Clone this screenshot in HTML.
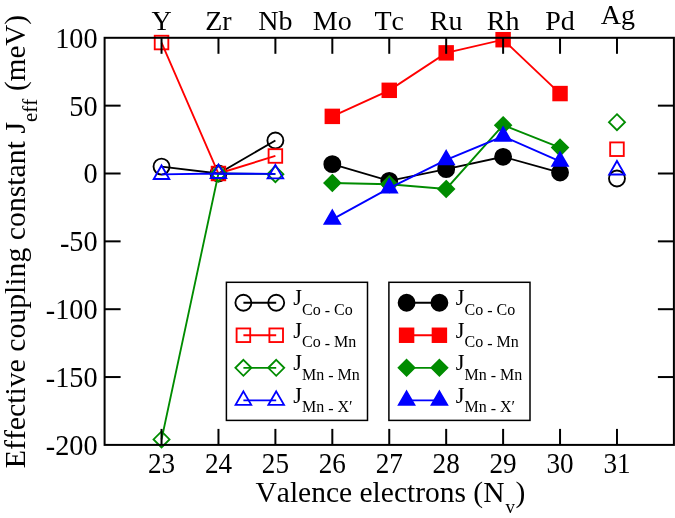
<!DOCTYPE html>
<html><head><meta charset="utf-8"><style>
html,body{margin:0;padding:0;background:#fff;}
svg{display:block;}
text{font-family:"Liberation Serif","Times New Roman",serif;fill:#000;font-kerning:none;font-feature-settings:"kern" 0;}
</style></head><body>
<svg width="675" height="518" viewBox="0 0 675 518">
<rect width="675" height="518" fill="#fff"/>
<g font-size="28">
<text transform="translate(161.53,472.6) scale(0.97,1.045)" text-anchor="middle">23</text>
<text transform="translate(218.46,472.6) scale(0.97,1.045)" text-anchor="middle">24</text>
<text transform="translate(275.39,472.6) scale(0.97,1.045)" text-anchor="middle">25</text>
<text transform="translate(332.32,472.6) scale(0.97,1.045)" text-anchor="middle">26</text>
<text transform="translate(389.25,472.6) scale(0.97,1.045)" text-anchor="middle">27</text>
<text transform="translate(446.18,472.6) scale(0.97,1.045)" text-anchor="middle">28</text>
<text transform="translate(503.11,472.6) scale(0.97,1.045)" text-anchor="middle">29</text>
<text transform="translate(560.04,472.6) scale(0.97,1.045)" text-anchor="middle">30</text>
<text transform="translate(616.97,472.6) scale(0.97,1.045)" text-anchor="middle">31</text>
<text x="161.53" y="29.5" text-anchor="middle">Y</text>
<text x="218.46" y="29.5" text-anchor="middle">Zr</text>
<text x="275.39" y="29.5" text-anchor="middle">Nb</text>
<text x="332.32" y="29.5" text-anchor="middle">Mo</text>
<text x="389.25" y="29.5" text-anchor="middle">Tc</text>
<text x="446.18" y="29.5" text-anchor="middle">Ru</text>
<text x="503.11" y="29.5" text-anchor="middle">Rh</text>
<text x="560.04" y="29.5" text-anchor="middle">Pd</text>
<text x="617.87" y="24.0" text-anchor="middle">Ag</text>
<text transform="translate(97.6,454.80) scale(1.01,1.06)" text-anchor="end"><tspan dy="1.2">-</tspan><tspan dy="-1.2">200</tspan></text>
<text transform="translate(97.6,386.95) scale(1.01,1.06)" text-anchor="end"><tspan dy="1.2">-</tspan><tspan dy="-1.2">150</tspan></text>
<text transform="translate(97.6,319.10) scale(1.01,1.06)" text-anchor="end"><tspan dy="1.2">-</tspan><tspan dy="-1.2">100</tspan></text>
<text transform="translate(97.6,251.25) scale(1.01,1.06)" text-anchor="end"><tspan dy="1.2">-</tspan><tspan dy="-1.2">50</tspan></text>
<text transform="translate(97.6,183.40) scale(1.01,1.06)" text-anchor="end">0</text>
<text transform="translate(97.6,115.55) scale(1.01,1.06)" text-anchor="end">50</text>
<text transform="translate(97.6,47.70) scale(1.01,1.06)" text-anchor="end">100</text>
</g>
<g transform="translate(25,0) rotate(-90)" font-size="29.6"><text x="-468.2" font-size="29.75">Effective coupling constant J</text><text x="-122" y="11.5" font-size="21">eff</text><text x="-90.9" font-size="29.1" transform="scale(1,1.03)">(meV)</text></g>
<g font-size="29.5"><text x="255.5" y="501.6">Valence electrons (N</text><text x="505.4" y="513.4" font-size="19">v</text><text x="515.6" y="501.6">)</text></g>
<polyline points="161.53,166.58 218.46,173.50 275.39,140.52" fill="none" stroke="#000" stroke-width="1.85"/>
<circle cx="161.53" cy="166.58" r="8.00" fill="none" stroke="#000" stroke-width="1.85"/>
<circle cx="218.46" cy="173.50" r="8.00" fill="none" stroke="#000" stroke-width="1.85"/>
<circle cx="275.39" cy="140.52" r="8.00" fill="none" stroke="#000" stroke-width="1.85"/>
<polyline points="161.53,42.55 218.46,173.50 275.39,155.99" fill="none" stroke="#ff0000" stroke-width="1.85"/>
<rect x="154.73" y="35.75" width="13.60" height="13.60" fill="none" stroke="#ff0000" stroke-width="1.85"/>
<rect x="211.66" y="166.70" width="13.60" height="13.60" fill="none" stroke="#ff0000" stroke-width="1.85"/>
<rect x="268.59" y="149.19" width="13.60" height="13.60" fill="none" stroke="#ff0000" stroke-width="1.85"/>
<polyline points="161.53,439.47 218.46,173.50 275.39,174.18" fill="none" stroke="#008c00" stroke-width="1.85"/>
<polygon points="161.53,431.47 169.53,439.47 161.53,447.47 153.53,439.47" fill="none" stroke="#008c00" stroke-width="1.85"/>
<polygon points="218.46,165.50 226.46,173.50 218.46,181.50 210.46,173.50" fill="none" stroke="#008c00" stroke-width="1.85"/>
<polygon points="275.39,166.18 283.39,174.18 275.39,182.18 267.39,174.18" fill="none" stroke="#008c00" stroke-width="1.85"/>
<polyline points="161.53,174.45 218.46,173.50 275.39,173.91" fill="none" stroke="#0000ff" stroke-width="1.85"/>
<polygon points="161.53,165.45 169.32,178.95 153.74,178.95" fill="none" stroke="#0000ff" stroke-width="1.85"/>
<polygon points="218.46,164.50 226.25,178.00 210.67,178.00" fill="none" stroke="#0000ff" stroke-width="1.85"/>
<polygon points="275.39,164.91 283.18,178.41 267.60,178.41" fill="none" stroke="#0000ff" stroke-width="1.85"/>
<polyline points="332.32,164.14 389.25,180.83 446.18,169.16 503.11,156.81 560.04,172.55" fill="none" stroke="#000" stroke-width="1.85"/>
<circle cx="332.32" cy="164.14" r="8.00" fill="#000" stroke="#000" stroke-width="1.85"/>
<circle cx="389.25" cy="180.83" r="8.00" fill="#000" stroke="#000" stroke-width="1.85"/>
<circle cx="446.18" cy="169.16" r="8.00" fill="#000" stroke="#000" stroke-width="1.85"/>
<circle cx="503.11" cy="156.81" r="8.00" fill="#000" stroke="#000" stroke-width="1.85"/>
<circle cx="560.04" cy="172.55" r="8.00" fill="#000" stroke="#000" stroke-width="1.85"/>
<polyline points="332.32,116.37 389.25,90.32 446.18,52.86 503.11,39.70 560.04,93.57" fill="none" stroke="#ff0000" stroke-width="1.85"/>
<rect x="325.52" y="109.57" width="13.60" height="13.60" fill="#ff0000" stroke="#ff0000" stroke-width="1.85"/>
<rect x="382.45" y="83.52" width="13.60" height="13.60" fill="#ff0000" stroke="#ff0000" stroke-width="1.85"/>
<rect x="439.38" y="46.06" width="13.60" height="13.60" fill="#ff0000" stroke="#ff0000" stroke-width="1.85"/>
<rect x="496.31" y="32.90" width="13.60" height="13.60" fill="#ff0000" stroke="#ff0000" stroke-width="1.85"/>
<rect x="553.24" y="86.77" width="13.60" height="13.60" fill="#ff0000" stroke="#ff0000" stroke-width="1.85"/>
<polyline points="332.32,183.00 389.25,184.22 446.18,188.97 503.11,125.19 560.04,147.58" fill="none" stroke="#008c00" stroke-width="1.85"/>
<polygon points="332.32,175.00 340.32,183.00 332.32,191.00 324.32,183.00" fill="#008c00" stroke="#008c00" stroke-width="1.85"/>
<polygon points="389.25,176.22 397.25,184.22 389.25,192.22 381.25,184.22" fill="#008c00" stroke="#008c00" stroke-width="1.85"/>
<polygon points="446.18,180.97 454.18,188.97 446.18,196.97 438.18,188.97" fill="#008c00" stroke="#008c00" stroke-width="1.85"/>
<polygon points="503.11,117.19 511.11,125.19 503.11,133.19 495.11,125.19" fill="#008c00" stroke="#008c00" stroke-width="1.85"/>
<polygon points="560.04,139.58 568.04,147.58 560.04,155.58 552.04,147.58" fill="#008c00" stroke="#008c00" stroke-width="1.85"/>
<polyline points="332.32,219.37 389.25,188.16 446.18,159.93 503.11,136.32 560.04,161.42" fill="none" stroke="#0000ff" stroke-width="1.85"/>
<polygon points="332.32,210.37 340.11,223.87 324.53,223.87" fill="#0000ff" stroke="#0000ff" stroke-width="1.85"/>
<polygon points="389.25,179.16 397.04,192.66 381.46,192.66" fill="#0000ff" stroke="#0000ff" stroke-width="1.85"/>
<polygon points="446.18,150.93 453.97,164.43 438.39,164.43" fill="#0000ff" stroke="#0000ff" stroke-width="1.85"/>
<polygon points="503.11,127.32 510.90,140.82 495.32,140.82" fill="#0000ff" stroke="#0000ff" stroke-width="1.85"/>
<polygon points="560.04,152.42 567.83,165.92 552.25,165.92" fill="#0000ff" stroke="#0000ff" stroke-width="1.85"/>
<circle cx="616.97" cy="178.52" r="8.00" fill="none" stroke="#000" stroke-width="1.85"/>
<rect x="610.17" y="142.41" width="13.60" height="13.60" fill="none" stroke="#ff0000" stroke-width="1.85"/>
<polygon points="616.97,114.21 624.97,122.21 616.97,130.21 608.97,122.21" fill="none" stroke="#008c00" stroke-width="1.85"/>
<polygon points="616.97,160.97 624.76,174.47 609.18,174.47" fill="none" stroke="#0000ff" stroke-width="1.85"/>
<rect x="104.6" y="37.8" width="569.30" height="407.10" fill="none" stroke="#000" stroke-width="2"/>
<line x1="161.53" y1="444.90" x2="161.53" y2="428.90" stroke="#000" stroke-width="2"/>
<line x1="161.53" y1="37.80" x2="161.53" y2="53.80" stroke="#000" stroke-width="2"/>
<line x1="218.46" y1="444.90" x2="218.46" y2="428.90" stroke="#000" stroke-width="2"/>
<line x1="218.46" y1="37.80" x2="218.46" y2="53.80" stroke="#000" stroke-width="2"/>
<line x1="275.39" y1="444.90" x2="275.39" y2="428.90" stroke="#000" stroke-width="2"/>
<line x1="275.39" y1="37.80" x2="275.39" y2="53.80" stroke="#000" stroke-width="2"/>
<line x1="332.32" y1="444.90" x2="332.32" y2="428.90" stroke="#000" stroke-width="2"/>
<line x1="332.32" y1="37.80" x2="332.32" y2="53.80" stroke="#000" stroke-width="2"/>
<line x1="389.25" y1="444.90" x2="389.25" y2="428.90" stroke="#000" stroke-width="2"/>
<line x1="389.25" y1="37.80" x2="389.25" y2="53.80" stroke="#000" stroke-width="2"/>
<line x1="446.18" y1="444.90" x2="446.18" y2="428.90" stroke="#000" stroke-width="2"/>
<line x1="446.18" y1="37.80" x2="446.18" y2="53.80" stroke="#000" stroke-width="2"/>
<line x1="503.11" y1="444.90" x2="503.11" y2="428.90" stroke="#000" stroke-width="2"/>
<line x1="503.11" y1="37.80" x2="503.11" y2="53.80" stroke="#000" stroke-width="2"/>
<line x1="560.04" y1="444.90" x2="560.04" y2="428.90" stroke="#000" stroke-width="2"/>
<line x1="560.04" y1="37.80" x2="560.04" y2="53.80" stroke="#000" stroke-width="2"/>
<line x1="616.97" y1="444.90" x2="616.97" y2="428.90" stroke="#000" stroke-width="2"/>
<line x1="616.97" y1="37.80" x2="616.97" y2="53.80" stroke="#000" stroke-width="2"/>
<line x1="104.60" y1="377.05" x2="120.60" y2="377.05" stroke="#000" stroke-width="2"/>
<line x1="673.90" y1="377.05" x2="657.90" y2="377.05" stroke="#000" stroke-width="2"/>
<line x1="104.60" y1="309.20" x2="120.60" y2="309.20" stroke="#000" stroke-width="2"/>
<line x1="673.90" y1="309.20" x2="657.90" y2="309.20" stroke="#000" stroke-width="2"/>
<line x1="104.60" y1="241.35" x2="120.60" y2="241.35" stroke="#000" stroke-width="2"/>
<line x1="673.90" y1="241.35" x2="657.90" y2="241.35" stroke="#000" stroke-width="2"/>
<line x1="104.60" y1="173.50" x2="120.60" y2="173.50" stroke="#000" stroke-width="2"/>
<line x1="673.90" y1="173.50" x2="657.90" y2="173.50" stroke="#000" stroke-width="2"/>
<line x1="104.60" y1="105.65" x2="120.60" y2="105.65" stroke="#000" stroke-width="2"/>
<line x1="673.90" y1="105.65" x2="657.90" y2="105.65" stroke="#000" stroke-width="2"/>
<rect x="226.4" y="282.3" width="141.1" height="138.1" fill="#fff" stroke="#000" stroke-width="1.5"/>
<line x1="243.40" y1="302.70" x2="276.20" y2="302.70" stroke="#000" stroke-width="1.85"/>
<circle cx="243.40" cy="302.70" r="8.00" fill="none" stroke="#000" stroke-width="1.85"/>
<circle cx="276.20" cy="302.70" r="8.00" fill="none" stroke="#000" stroke-width="1.85"/>
<text x="293.20" y="305.00" font-size="22.5">J</text>
<text x="302.00" y="314.75" font-size="16">Co <tspan dy="1.4">-</tspan><tspan dy="-1.4"> Co</tspan></text>
<line x1="243.40" y1="335.25" x2="276.20" y2="335.25" stroke="#ff0000" stroke-width="1.85"/>
<rect x="236.60" y="328.45" width="13.60" height="13.60" fill="none" stroke="#ff0000" stroke-width="1.85"/>
<rect x="269.40" y="328.45" width="13.60" height="13.60" fill="none" stroke="#ff0000" stroke-width="1.85"/>
<text x="293.20" y="337.55" font-size="22.5">J</text>
<text x="302.00" y="347.30" font-size="16">Co <tspan dy="1.4">-</tspan><tspan dy="-1.4"> Mn</tspan></text>
<line x1="243.40" y1="367.80" x2="276.20" y2="367.80" stroke="#008c00" stroke-width="1.85"/>
<polygon points="243.40,359.80 251.40,367.80 243.40,375.80 235.40,367.80" fill="none" stroke="#008c00" stroke-width="1.85"/>
<polygon points="276.20,359.80 284.20,367.80 276.20,375.80 268.20,367.80" fill="none" stroke="#008c00" stroke-width="1.85"/>
<text x="293.20" y="370.10" font-size="22.5">J</text>
<text x="302.00" y="379.85" font-size="16">Mn <tspan dy="1.4">-</tspan><tspan dy="-1.4"> Mn</tspan></text>
<line x1="243.40" y1="400.35" x2="276.20" y2="400.35" stroke="#0000ff" stroke-width="1.85"/>
<polygon points="243.40,391.35 251.19,404.85 235.61,404.85" fill="none" stroke="#0000ff" stroke-width="1.85"/>
<polygon points="276.20,391.35 283.99,404.85 268.41,404.85" fill="none" stroke="#0000ff" stroke-width="1.85"/>
<text x="293.20" y="402.65" font-size="22.5">J</text>
<text x="302.00" y="412.40" font-size="16">Mn <tspan dy="1.4">-</tspan><tspan dy="-1.4"> X&#8242;</tspan></text>
<rect x="388.9" y="282.3" width="141.1" height="138.1" fill="#fff" stroke="#000" stroke-width="1.5"/>
<line x1="406.60" y1="302.70" x2="439.40" y2="302.70" stroke="#000" stroke-width="1.85"/>
<circle cx="406.60" cy="302.70" r="8.00" fill="#000" stroke="#000" stroke-width="1.85"/>
<circle cx="439.40" cy="302.70" r="8.00" fill="#000" stroke="#000" stroke-width="1.85"/>
<text x="455.70" y="305.00" font-size="22.5">J</text>
<text x="464.50" y="314.75" font-size="16">Co <tspan dy="1.4">-</tspan><tspan dy="-1.4"> Co</tspan></text>
<line x1="406.60" y1="335.25" x2="439.40" y2="335.25" stroke="#ff0000" stroke-width="1.85"/>
<rect x="399.80" y="328.45" width="13.60" height="13.60" fill="#ff0000" stroke="#ff0000" stroke-width="1.85"/>
<rect x="432.60" y="328.45" width="13.60" height="13.60" fill="#ff0000" stroke="#ff0000" stroke-width="1.85"/>
<text x="455.70" y="337.55" font-size="22.5">J</text>
<text x="464.50" y="347.30" font-size="16">Co <tspan dy="1.4">-</tspan><tspan dy="-1.4"> Mn</tspan></text>
<line x1="406.60" y1="367.80" x2="439.40" y2="367.80" stroke="#008c00" stroke-width="1.85"/>
<polygon points="406.60,359.80 414.60,367.80 406.60,375.80 398.60,367.80" fill="#008c00" stroke="#008c00" stroke-width="1.85"/>
<polygon points="439.40,359.80 447.40,367.80 439.40,375.80 431.40,367.80" fill="#008c00" stroke="#008c00" stroke-width="1.85"/>
<text x="455.70" y="370.10" font-size="22.5">J</text>
<text x="464.50" y="379.85" font-size="16">Mn <tspan dy="1.4">-</tspan><tspan dy="-1.4"> Mn</tspan></text>
<line x1="406.60" y1="400.35" x2="439.40" y2="400.35" stroke="#0000ff" stroke-width="1.85"/>
<polygon points="406.60,391.35 414.39,404.85 398.81,404.85" fill="#0000ff" stroke="#0000ff" stroke-width="1.85"/>
<polygon points="439.40,391.35 447.19,404.85 431.61,404.85" fill="#0000ff" stroke="#0000ff" stroke-width="1.85"/>
<text x="455.70" y="402.65" font-size="22.5">J</text>
<text x="464.50" y="412.40" font-size="16">Mn <tspan dy="1.4">-</tspan><tspan dy="-1.4"> X&#8242;</tspan></text>
</svg>
</body></html>
